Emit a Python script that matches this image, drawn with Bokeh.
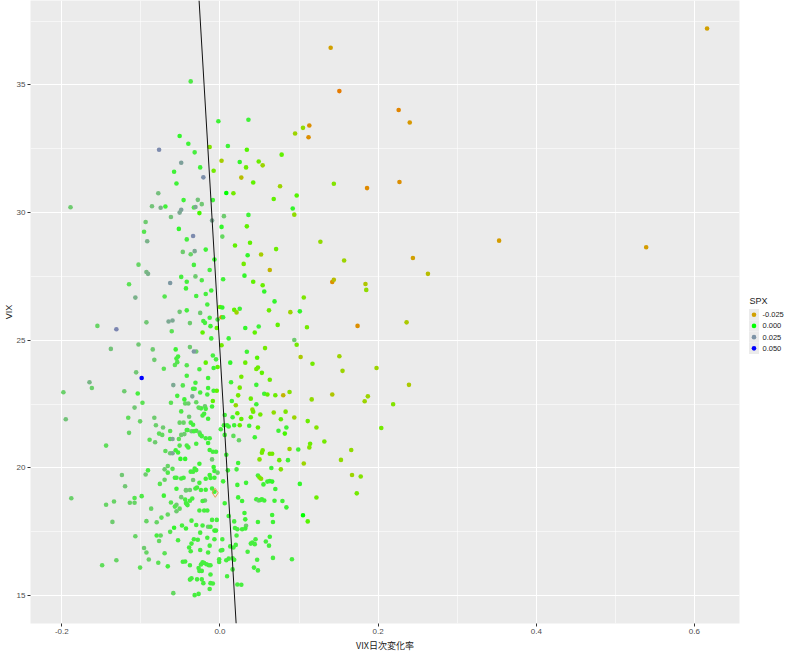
from bokeh.plotting import figure
from bokeh.models import (ColumnDataSource, Range1d, FixedTicker, PrintfTickFormatter, Slope, Title)
from bokeh.layouts import row
from bokeh.core.properties import value
from bokeh.embed import file_html
from bokeh.resources import INLINE

# ---------------- data ----------------
vix_change = [
 -0.051,-0.077,-0.049,-0.058,-0.055,-0.078,-0.046,-0.189,-0.086,-0.075,
 -0.069,-0.049,-0.051,-0.062,-0.094,-0.052,-0.096,-0.042,-0.092,-0.047,
 -0.103,-0.093,-0.091,-0.049,-0.042,-0.115,-0.063,-0.043,-0.107,-0.070,
 -0.051,-0.042,-0.155,-0.131,-0.093,-0.065,-0.060,-0.061,-0.138,-0.103,
 -0.085,-0.056,-0.053,-0.055,-0.083,-0.054,-0.057,-0.071,-0.042,-0.106,
 -0.099,-0.165,-0.162,-0.198,-0.121,-0.104,-0.059,-0.047,-0.054,-0.098,
 -0.062,-0.044,-0.108,-0.049,-0.195,-0.116,-0.083,-0.101,-0.051,-0.046,
 -0.081,-0.072,-0.063,-0.042,-0.115,-0.077,-0.073,-0.049,-0.045,-0.089,
 -0.063,-0.060,-0.052,-0.082,-0.144,-0.051,-0.042,-0.069,-0.056,-0.063,
 -0.060,-0.053,-0.044,-0.050,-0.066,-0.070,-0.060,-0.091,-0.124,-0.094,
 -0.066,-0.057,-0.055,-0.046,-0.049,-0.070,-0.076,-0.120,-0.055,-0.043,
 -0.188,-0.071,-0.049,-0.099,-0.108,-0.114,-0.108,-0.134,-0.144,-0.044,
 -0.042,-0.062,-0.055,-0.057,-0.051,-0.055,-0.087,-0.136,-0.093,-0.080,
 -0.074,-0.066,-0.058,-0.048,-0.043,-0.063,-0.107,-0.080,-0.075,-0.077,
 -0.053,-0.096,-0.093,-0.070,-0.090,-0.131,-0.078,-0.047,-0.149,-0.101,
 -0.066,-0.059,
 -0.037,-0.002, 0.036, 0.095,-0.040, 0.010,-0.013, 0.034, 0.078,-0.032,
  0.002, 0.025, 0.049, 0.054, 0.033,-0.025,-0.008,-0.021, 0.027, 0.076,
  0.042, 0.008, 0.017, 0.097, 0.068,-0.009,-0.028,-0.033,-0.031,-0.023,
 -0.026, 0.092, 0.094, 0.005, 0.036,-0.010, 0.002, 0.034,-0.034, 0.003,
  0.038, 0.019, 0.071,-0.032,-0.037,-0.018, 0.052, 0.035,-0.007,-0.033,
  0.030, 0.063,-0.013,-0.031, 0.031, 0.004,-0.023, 0.042, 0.054,-0.011,
  0.056,-0.018,-0.030, 0.069,-0.016, 0.000, 0.003, 0.018, 0.025, 0.062,
  0.089, 0.101, 0.021,-0.025, 0.002, 0.004,-0.013,-0.003,-0.038,-0.021,
 -0.019,-0.012, 0.032, 0.049, 0.073,-0.004, 0.044,-0.022,-0.011, 0.011,
  0.094, 0.097,-0.038, 0.057, 0.002,-0.030,-0.033, 0.034,-0.009,
 -0.018,-0.005,-0.003, 0.013, 0.032, 0.047,-0.026,-0.008, 0.046, 0.048,
  0.053,-0.042,-0.015, 0.027, 0.063,-0.031, 0.014, 0.046, 0.025,-0.034,
 -0.032,-0.015,-0.008,-0.004,-0.025,-0.016, 0.056, 0.060, 0.070, 0.080,
  0.088, 0.023,-0.035,-0.045, 0.039,-0.009, 0.015,-0.040,-0.030,-0.019,
 -0.018,-0.024,-0.027,-0.010, 0.020, 0.046, 0.041, 0.042, 0.068, 0.083,
  0.094, 0.051, 0.022, 0.006, 0.016, 0.027, 0.039, 0.077,-0.039,-0.015,
 -0.022,-0.020,-0.037,-0.034, 0.009, 0.005, 0.011, 0.018, 0.025, 0.037,
  0.048, 0.084, 0.001,-0.041,-0.036,-0.033,-0.030,-0.026,-0.023,-0.025,
  0.074, 0.082, 0.006, 0.017, 0.044,-0.018,-0.013,-0.015, 0.024,-0.040,
 -0.030,-0.013,-0.009,-0.005,-0.010, 0.008, 0.054, 0.053, 0.063, 0.066,
  0.088, 0.099, 0.050, 0.075, 0.086, 0.023,-0.026, 0.065, 0.077,-0.032,
 -0.030,-0.008,-0.007,-0.003,-0.037,-0.034, 0.021, 0.010,-0.013,-0.018,
 -0.012,-0.007,-0.034, 0.004, 0.048, 0.052, 0.050, 0.033, 0.022, 0.055,
  0.060, 0.063, 0.066, 0.101,-0.026,-0.029,-0.031,-0.038,-0.043,-0.024,
 -0.018,-0.010,-0.007, 0.070, 0.046, 0.049, 0.053, 0.056, 0.051, 0.069,
  0.079, 0.023, 0.028, 0.006,-0.019,-0.022,-0.035,-0.038,-0.041,-0.043,
 -0.026,-0.020,-0.016, 0.084, 0.031, 0.032, 0.033, 0.032, 0.066, 0.011,
  0.048, 0.067, 0.018,-0.036,-0.010,-0.004,-0.022,-0.015,-0.012,-0.030,
 -0.007,-0.005, 0.019, 0.022, 0.028, 0.021,-0.025, 0.063,-0.033,-0.028,
 -0.016,-0.013,-0.007, 0.003, 0.013, 0.020, 0.017, 0.039, 0.041, 0.044,
  0.045, 0.058, 0.062,-0.036,-0.039, 0.035, 0.001, 0.003,-0.025,-0.015,
 -0.037, 0.011, 0.016, 0.018, 0.008,-0.001,-0.001, 0.047, 0.067, 0.091,
 -0.020,-0.017,-0.014,-0.012,-0.022,-0.024,-0.027,-0.044,-0.038, 0.043,
  0.048, 0.016,-0.023,-0.026,-0.036,-0.038,-0.029,-0.023,-0.021,-0.012,
 -0.012,-0.013, 0.009, 0.022, 0.027,-0.009,-0.032,-0.027,
  0.140, 0.151, 0.226, 0.240, 0.105, 0.113, 0.112, 0.144, 0.186, 0.227,
  0.127, 0.157, 0.244, 0.263, 0.142, 0.144, 0.184, 0.185, 0.106,
  0.110, 0.174, 0.236, 0.102, 0.151, 0.117, 0.155, 0.198, 0.239, 0.142,
  0.116, 0.187, 0.183, 0.219, 0.111, 0.122, 0.204, 0.132, 0.114, 0.113,
  0.166, 0.106, 0.153, 0.167, 0.178, 0.173, 0.122, 0.105, 0.111,
  0.353, 0.539, 0.616,
]

vix_level = [
 33.00,32.46,31.95,31.60,31.14,30.76,30.49,30.21,30.25,30.19,
 30.24,30.11,30.00,29.83,29.63,29.36,29.25,28.95,28.88,28.46,
 27.96,27.67,27.60,27.48,27.29,27.19,27.24,27.03,26.67,26.71,
 26.11,26.17,25.56,25.43,25.70,25.73,25.77,25.35,24.66,24.83,
 24.64,24.64,24.36,24.28,24.23,24.14,24.03,23.88,24.02,23.74,
 23.52,23.35,23.13,22.96,23.00,22.91,23.24,23.23,22.82,22.55,
 22.55,22.52,22.36,22.21,21.90,21.96,21.96,21.82,21.77,21.77,
 21.67,21.58,21.44,21.48,21.37,21.34,21.29,21.29,21.32,21.10,
 21.13,21.13,21.13,21.00,20.87,20.87,20.87,20.66,20.69,20.57,
 20.57,20.60,20.35,20.35,20.07,19.94,19.96,19.90,19.72,19.74,
 19.81,19.61,19.61,19.61,19.58,19.53,19.37,19.28,19.18,19.11,
 18.81,18.91,18.85,18.89,18.82,18.63,18.63,18.68,18.55,18.76,
 18.58,18.64,18.55,18.48,18.40,18.30,18.40,17.88,17.91,17.87,
 18.05,18.17,17.65,17.74,17.62,17.49,17.32,17.35,17.35,17.13,
 17.16,16.86,16.68,16.65,16.41,16.38,16.28,16.32,16.18,16.09,
 16.14,15.09,
 35.14,33.58,33.64,33.10,32.70,32.61,32.57,32.46,32.27,32.36,
 32.03,31.98,32.00,31.85,31.77,31.77,31.64,31.38,31.37,31.03,
 31.18,30.77,30.76,30.67,30.53,30.49,30.50,30.20,30.22,30.33,
 29.98,30.16,29.92,29.86,29.91,29.69,29.44,29.46,29.08,29.06,
 28.82,28.71,28.57,28.49,28.37,28.55,28.36,28.33,28.16,27.95,
 27.99,27.75,27.75,27.50,27.53,27.39,27.35,27.29,27.15,26.95,
 26.91,26.81,26.73,26.52,26.40,26.30,26.28,26.19,26.23,26.17,
 26.10,26.13,26.09,26.07,25.90,25.90,25.88,25.81,25.67,25.75,
 25.68,25.55,25.48,25.54,25.60,25.48,25.30,25.30,25.07,25.07,
 25.01,24.82,24.73,24.69,24.80,24.56,24.56,24.55,24.40,
 24.12,24.25,23.95,24.12,24.12,24.31,23.86,23.91,23.87,23.93,
 23.72,23.61,23.52,23.57,23.45,23.33,23.35,23.25,23.14,23.10,
 23.10,23.13,23.02,23.02,22.95,22.87,22.90,22.87,22.84,22.84,
 22.97,22.84,22.80,22.68,22.71,22.62,22.62,22.52,22.57,22.41,
 22.31,22.33,22.36,22.40,22.45,22.49,22.28,22.20,22.17,22.20,
 21.97,22.09,22.14,22.07,21.98,21.91,21.98,21.90,22.00,21.92,
 22.05,22.12,21.77,21.69,21.67,21.67,21.62,21.67,21.67,21.65,
 21.58,21.58,21.51,21.48,21.43,21.43,21.45,21.38,21.24,21.30,
 21.45,21.34,21.29,21.25,21.20,21.16,21.16,20.97,21.08,20.80,
 20.94,20.70,20.63,20.63,20.33,20.51,20.69,20.59,20.55,20.55,
 20.74,20.72,20.33,20.30,20.30,20.19,20.16,19.99,19.94,19.97,
 19.91,20.03,19.88,19.81,19.85,19.85,19.94,19.90,19.72,19.57,
 19.60,19.61,19.52,19.47,19.70,19.57,19.62,19.41,19.33,19.35,
 19.46,19.48,19.46,19.37,19.41,19.23,19.19,19.13,19.13,19.13,
 19.14,19.19,19.06,19.17,18.77,18.72,18.77,18.72,18.74,18.71,
 18.70,18.84,18.70,18.61,18.72,18.70,18.80,18.71,18.54,18.62,
 18.33,18.33,18.33,18.45,18.23,17.98,17.73,17.62,18.15,18.11,
 17.88,17.88,17.90,17.93,17.96,17.96,17.74,17.69,17.69,17.76,
 17.54,17.54,17.64,17.59,17.59,17.35,17.46,17.30,17.20,17.18,
 17.26,16.95,17.20,17.20,16.92,16.98,16.88,17.03,17.07,17.01,
 17.20,17.11,16.95,17.03,16.88,16.71,16.76,16.78,16.78,16.68,
 16.73,16.44,16.45,16.40,16.38,16.42,16.31,16.40,16.47,16.42,
 16.27,16.22,16.18,16.18,16.30,16.21,16.07,16.33,16.18,16.09,
 15.98,16.02,15.96,15.96,15.67,15.62,15.63,15.63,15.48,15.82,
 15.48,15.25,15.75,15.43,15.42,15.47,15.01,15.06,
 36.46,34.76,34.02,33.53,33.32,33.41,32.95,31.13,30.96,31.20,
 28.86,28.12,28.22,27.60,27.28,27.37,27.20,26.97,26.67,
 25.51,25.56,25.70,24.34,24.37,24.08,23.80,23.91,23.25,22.87,
 22.68,22.80,22.61,22.49,21.83,21.58,21.56,21.03,20.94,20.80,
 20.70,20.17,20.31,19.72,19.66,19.00,18.84,18.14,17.90,
 28.90,28.64,37.21,
]

spx = [
 0.002,0.027,0.022,0.003,0.003,0.015,0.003,0.012,0.014,0.018,
 0.003,0.022,0.020,0.014,0.012,0.002,0.006,0.004,0.018,0.012,
 0.010,0.016,0.018,0.004,0.004,0.007,0.024,0.003,0.018,0.006,
 0.013,0.004,0.010,0.028,0.013,0.020,0.020,0.007,0.014,0.013,
 0.012,0.003,0.004,0.004,0.012,0.006,0.007,0.007,0.006,0.013,
 0.050,0.017,0.011,0.011,0.012,0.004,0.020,0.006,0.004,0.007,
 0.007,0.009,0.013,0.005,0.014,0.008,0.012,0.010,0.010,0.010,
 0.011,0.012,0.007,0.004,0.010,0.008,0.009,0.012,0.012,0.007,
 0.003,0.020,0.007,0.012,0.008,0.006,0.005,0.008,0.003,0.012,
 0.020,0.003,0.002,0.002,0.010,0.012,0.007,0.004,0.013,0.012,
 0.005,0.004,0.004,0.004,0.004,0.010,0.006,0.013,0.003,0.013,
 0.011,0.003,0.012,0.005,0.006,0.010,0.010,0.010,0.010,0.004,
 0.004,0.006,0.012,0.006,0.008,0.012,0.010,0.012,0.010,0.010,
 0.007,0.009,0.002,0.004,0.003,0.006,0.010,0.004,0.009,0.009,
 0.004,0.012,0.010,0.007,0.010,0.010,0.007,0.004,0.008,0.007,
 0.004,0.009,
 0.005,0.003,0.003,-0.012,0.003,0.003,-0.008,-0.003,-0.004,0.004,
 -0.014,0.002,-0.005,-0.012,-0.005,0.003,-0.006,0.026,-0.018,-0.012,
 -0.004,0.000,-0.006,-0.003,-0.004,0.003,0.014,0.005,0.020,0.013,
 -0.002,0.002,-0.010,0.012,0.003,0.020,0.002,-0.004,0.027,0.009,
 -0.004,-0.004,-0.005,0.020,0.010,0.003,-0.014,0.002,0.002,0.004,
 -0.006,-0.020,0.004,0.012,0.002,0.003,0.005,-0.004,-0.005,0.003,
 0.002,0.004,0.004,0.002,0.004,-0.005,0.002,-0.004,0.003,-0.005,
 -0.012,0.002,-0.012,0.012,-0.025,0.003,0.004,0.004,0.012,0.004,
 0.004,0.003,0.002,0.003,-0.004,-0.004,-0.004,-0.004,0.003,0.003,
 0.012,-0.006,0.012,-0.006,-0.006,0.012,0.024,0.003,0.004,
 -0.004,0.004,-0.004,0.002,-0.005,-0.003,0.004,0.003,-0.006,-0.005,
 -0.004,0.004,0.003,-0.006,-0.005,0.004,0.003,0.003,-0.006,0.004,
 0.004,0.003,0.003,-0.004,0.004,0.004,0.003,-0.004,-0.005,-0.020,
 -0.008,-0.006,0.020,0.003,-0.005,-0.004,0.003,0.012,0.009,0.012,
 0.004,0.004,0.008,0.003,-0.010,0.003,-0.010,-0.006,-0.010,-0.007,
 -0.012,-0.006,-0.004,0.003,0.003,-0.004,-0.004,-0.004,0.012,0.003,
 0.004,0.004,0.004,0.004,0.003,0.003,0.003,0.003,-0.004,0.003,
 -0.004,0.003,0.004,0.004,0.012,0.004,0.004,0.012,0.004,0.004,
 0.003,-0.002,0.003,0.008,0.003,0.004,0.004,0.003,0.010,0.004,
 0.004,0.003,0.004,0.004,0.012,0.003,-0.006,-0.006,-0.006,-0.006,
 -0.012,0.003,-0.008,-0.005,0.003,0.003,0.003,0.003,-0.008,0.004,
 0.004,0.003,0.003,0.010,0.004,0.004,0.004,0.003,0.003,0.003,
 0.003,0.003,0.012,0.003,0.004,-0.010,-0.006,0.003,0.003,0.003,
 0.003,0.003,0.002,0.002,0.004,0.004,0.004,0.012,0.012,0.004,
 0.003,0.004,0.003,0.003,0.003,0.012,0.003,0.003,0.004,0.003,
 0.003,0.003,0.003,0.003,0.012,0.004,0.004,0.004,0.004,0.004,
 0.004,0.004,0.004,0.003,0.003,0.003,0.012,0.003,0.003,0.003,
 0.003,0.003,0.004,0.004,0.004,0.004,0.004,0.012,0.004,0.004,
 0.003,0.003,0.004,0.004,0.004,0.004,0.004,0.003,0.004,0.004,
 0.004,0.004,0.004,0.004,0.004,0.004,0.004,0.004,0.004,0.004,
 0.004,0.004,0.004,0.004,0.004,0.004,0.004,0.004,0.004,0.004,
 0.004,0.004,0.004,0.004,0.004,0.004,0.004,0.004,0.004,0.004,
 0.004,0.004,0.004,0.004,0.004,0.004,0.004,0.004,0.004,0.004,
 0.004,0.004,0.004,0.004,0.004,0.004,0.004,0.004,0.004,0.004,
 0.004,0.004,0.004,0.004,0.004,0.004,0.004,0.004,
 -0.025,-0.033,-0.031,-0.027,-0.010,-0.029,-0.029,-0.008,-0.030,-0.029,
 -0.010,-0.012,-0.025,-0.018,-0.029,-0.018,-0.016,-0.010,-0.007,
 -0.006,-0.029,-0.015,-0.015,-0.012,-0.006,-0.012,-0.012,-0.015,-0.016,
 -0.010,-0.012,-0.012,-0.008,-0.005,-0.008,-0.006,-0.006,-0.005,-0.008,
 -0.010,-0.012,-0.010,-0.012,-0.008,-0.006,-0.005,0.000,-0.003,
 -0.026,-0.026,-0.025,
]

# highlighted (hollow diamond) observation
hl_change = [-0.006]
hl_level = [19.02]

# fitted line: VIX = intercept + slope * change
fit_intercept = 24.55
fit_slope = -521.0

# colour scale (gradient2: low / mid / high)
spx_limits = (-0.045, 0.05)
legend_title = "SPX"
legend_breaks = [-0.025, 0.000, 0.025, 0.050]
legend_labels = ["-0.025", "0.000", "0.025", "0.050"]

x_ticks = [-0.2, 0.0, 0.2, 0.4, 0.6]
x_minor = [-0.1, 0.1, 0.3, 0.5]
y_ticks = [15, 20, 25, 30, 35]
y_minor = [17.5, 22.5, 27.5, 32.5, 37.5]

n = min(len(vix_change), len(vix_level), len(spx))
vix_change, vix_level, spx = vix_change[:n], vix_level[:n], spx[:n]

# ---------------- colour helpers (CIELAB interpolation like ggplot) ----------------
def _hex_to_rgb(h):
    h = h.lstrip("#")
    return [int(h[i:i+2], 16) / 255 for i in (0, 2, 4)]

def _lin(c):
    return c / 12.92 if c <= 0.04045 else ((c + 0.055) / 1.055) ** 2.4

def _gam(c):
    c = max(0.0, min(1.0, c))
    return 12.92 * c if c <= 0.0031308 else 1.055 * c ** (1 / 2.4) - 0.055

Xn, Yn, Zn = 0.95047, 1.0, 1.08883

def _f(t):
    return t ** (1 / 3) if t > 0.008856 else 7.787 * t + 16 / 116

def _finv(t):
    return t ** 3 if t ** 3 > 0.008856 else (t - 16 / 116) / 7.787

def hex_to_lab(h):
    r, g, b = [_lin(c) for c in _hex_to_rgb(h)]
    X = 0.4124 * r + 0.3576 * g + 0.1805 * b
    Y = 0.2126 * r + 0.7152 * g + 0.0722 * b
    Z = 0.0193 * r + 0.1192 * g + 0.9505 * b
    fx, fy, fz = _f(X / Xn), _f(Y / Yn), _f(Z / Zn)
    return (116 * fy - 16, 500 * (fx - fy), 200 * (fy - fz))

def lab_to_hex(L, a, b):
    fy = (L + 16) / 116
    fx = fy + a / 500
    fz = fy - b / 200
    X, Y, Z = Xn * _finv(fx), Yn * _finv(fy), Zn * _finv(fz)
    r = 3.2406 * X - 1.5372 * Y - 0.4986 * Z
    g = -0.9689 * X + 1.8758 * Y + 0.0415 * Z
    bb = 0.0557 * X - 0.2040 * Y + 1.0570 * Z
    return "#%02x%02x%02x" % tuple(int(round(_gam(c) * 255)) for c in (r, g, bb))

LOW, MID, HIGH = hex_to_lab("#ff0000"), hex_to_lab("#00ff00"), hex_to_lab("#0000ff")

def spx_color(s):
    lo, hi = spx_limits
    if s < 0:
        t = min(1.0, s / lo)
        A, B = MID, LOW
    else:
        t = min(1.0, s / hi)
        A, B = MID, HIGH
    return lab_to_hex(*[A[i] + (B[i] - A[i]) * t for i in range(3)])

colors = [spx_color(s) for s in spx]
src = ColumnDataSource(dict(x=vix_change, y=vix_level, c=colors))

# ---------------- main figure ----------------
p = figure(width=742, height=651,
           x_range=Range1d(-0.2396, 0.657), y_range=Range1d(13.9, 38.31),
           output_backend="svg", toolbar_location=None,
           min_border_top=0, min_border_right=3, min_border_left=0, min_border_bottom=0)

p.background_fill_color = "#EBEBEB"
p.border_fill_color = "white"
p.outline_line_color = None

p.xaxis.ticker = FixedTicker(ticks=x_ticks, minor_ticks=x_minor)
p.xaxis.formatter = PrintfTickFormatter(format="%.1f")
p.yaxis.ticker = FixedTicker(ticks=y_ticks, minor_ticks=y_minor)

for ax in (p.xaxis[0], p.yaxis[0]):
    ax.axis_line_color = None
    ax.major_tick_line_color = "#333333"
    ax.major_tick_out = 3
    ax.major_tick_in = 0
    ax.minor_tick_line_color = None
    ax.major_label_text_font = "Liberation Sans"
    ax.major_label_text_font_size = "8px"
    ax.major_label_text_color = "#4D4D4D"
    ax.major_label_text_line_height = 1.0
    ax.major_label_standoff = 1

ya = p.yaxis[0]
ya.axis_label = "VIX"
ya.axis_label_text_font = "Liberation Sans"
ya.axis_label_text_font_size = "9px"
ya.axis_label_text_font_style = "normal"
ya.axis_label_text_color = "#222222"
ya.axis_label_text_line_height = 1.0
ya.axis_label_standoff = 0

# x-axis title as a compact title below the axis
p.add_layout(Title(text="VIX日次変化率", align="center", text_font="Noto Sans CJK JP",
                   text_font_size="9px", text_font_style="normal", text_color="#222222",
                   text_line_height=1.0, standoff=0, offset=0), "below")

p.grid.grid_line_color = "white"
p.grid.grid_line_width = 1.1
p.grid.minor_grid_line_color = "white"
p.grid.minor_grid_line_width = 0.55

p.scatter("x", "y", source=src, size=4.6, fill_color="c", line_color=None)

p.scatter(hl_change, hl_level, marker="diamond", size=9, fill_color=None,
          line_color="#E8A050", line_width=1)

p.add_layout(Slope(gradient=fit_slope, y_intercept=fit_intercept,
                   line_color="#111111", line_width=1))

# ---------------- legend panel: shares the VIX scale (frames are aligned in the row) ----------------
lw = 42
lg = figure(width=lw, height=651, x_range=Range1d(0, lw), y_range=p.y_range,
            output_backend="svg", toolbar_location=None,
            min_border_top=0, min_border_right=0, min_border_left=0, min_border_bottom=0,
            x_axis_location=None, y_axis_location=None)
lg.outline_line_color = None
lg.grid.visible = False
lg.background_fill_color = "white"
lg.border_fill_color = "white"

key_x, key_w = 11.5, 10
key_step = 0.44
first_row = 26.0
key_y = [first_row - key_step * i for i in range(len(legend_breaks))]
lg.rect(x=[key_x] * len(key_y), y=key_y, width=key_w, height=key_step,
        fill_color="#EBEBEB", line_color=None)
lg.scatter(x=[key_x] * len(key_y), y=key_y, size=4.6,
           fill_color=[spx_color(b) for b in legend_breaks], line_color=None)
lg.text(x=[key_x + 8.5] * len(key_y), y=key_y, text=legend_labels,
        text_font=value("Liberation Sans"), text_font_size=value("7.5px"),
        text_color="#222222", text_baseline="middle", text_align="left")
lg.text(x=[key_x - 4.5], y=[first_row + 0.52], text=[legend_title],
        text_font=value("Liberation Sans"), text_font_size=value("9px"),
        text_color="#222222", text_baseline="middle", text_align="left")

layout = row(p, lg)
open("out.html", "w").write(file_html(layout, INLINE))
